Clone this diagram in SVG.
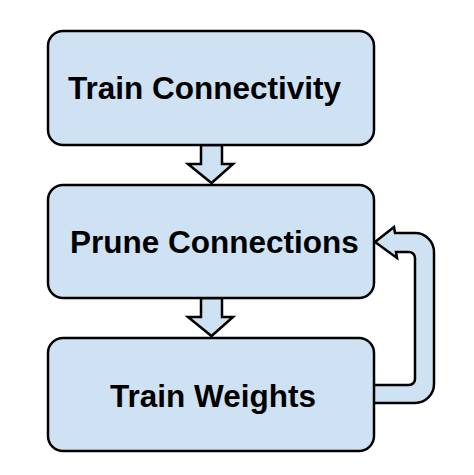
<svg xmlns="http://www.w3.org/2000/svg" width="474" height="475" viewBox="0 0 474 475">
<style>
.box{fill:#cfe2f3;stroke:#000;stroke-width:2.5}
.arr{fill:#cfe2f3;stroke:#000;stroke-width:2.5;stroke-linejoin:miter}
.lbl{font-family:"Liberation Sans",Arial,sans-serif;font-weight:bold;font-size:31.5px;fill:#000}
</style>
<rect width="474" height="475" fill="#fff"/>
<g id="connectors">
<path class="arr" d="M201,145 L222,145 L222,164 L233,164 L211.5,183 L188,164 L201,164 Z"/>
<path class="arr" d="M201,298 L222,298 L222,317 L233,317 L211.5,336 L188,317 L201,317 Z"/>
<path class="arr" d="M374,403 L415,403 A19,19 0 0 0 434,384 L434,252 A19,19 0 0 0 415,233 L395,233 L394,227 L375,242 L397,258 L396,252 L409,252 A6,6 0 0 1 415,258 L415,379 A6,6 0 0 1 409,385 L374,385"/>
</g>
<g id="train-connectivity">
<rect class="box" x="48" y="31" width="326" height="114" rx="15"/>
<text class="lbl" x="68" y="99">Train Connectivity</text>
</g>
<g id="prune-connections">
<rect class="box" x="48" y="185" width="326" height="113" rx="15"/>
<text class="lbl" x="70" y="253">Prune Connections</text>
</g>
<g id="train-weights">
<rect class="box" x="48" y="338" width="326" height="113" rx="15"/>
<text class="lbl" x="110" y="407">Train Weights</text>
</g>
</svg>
